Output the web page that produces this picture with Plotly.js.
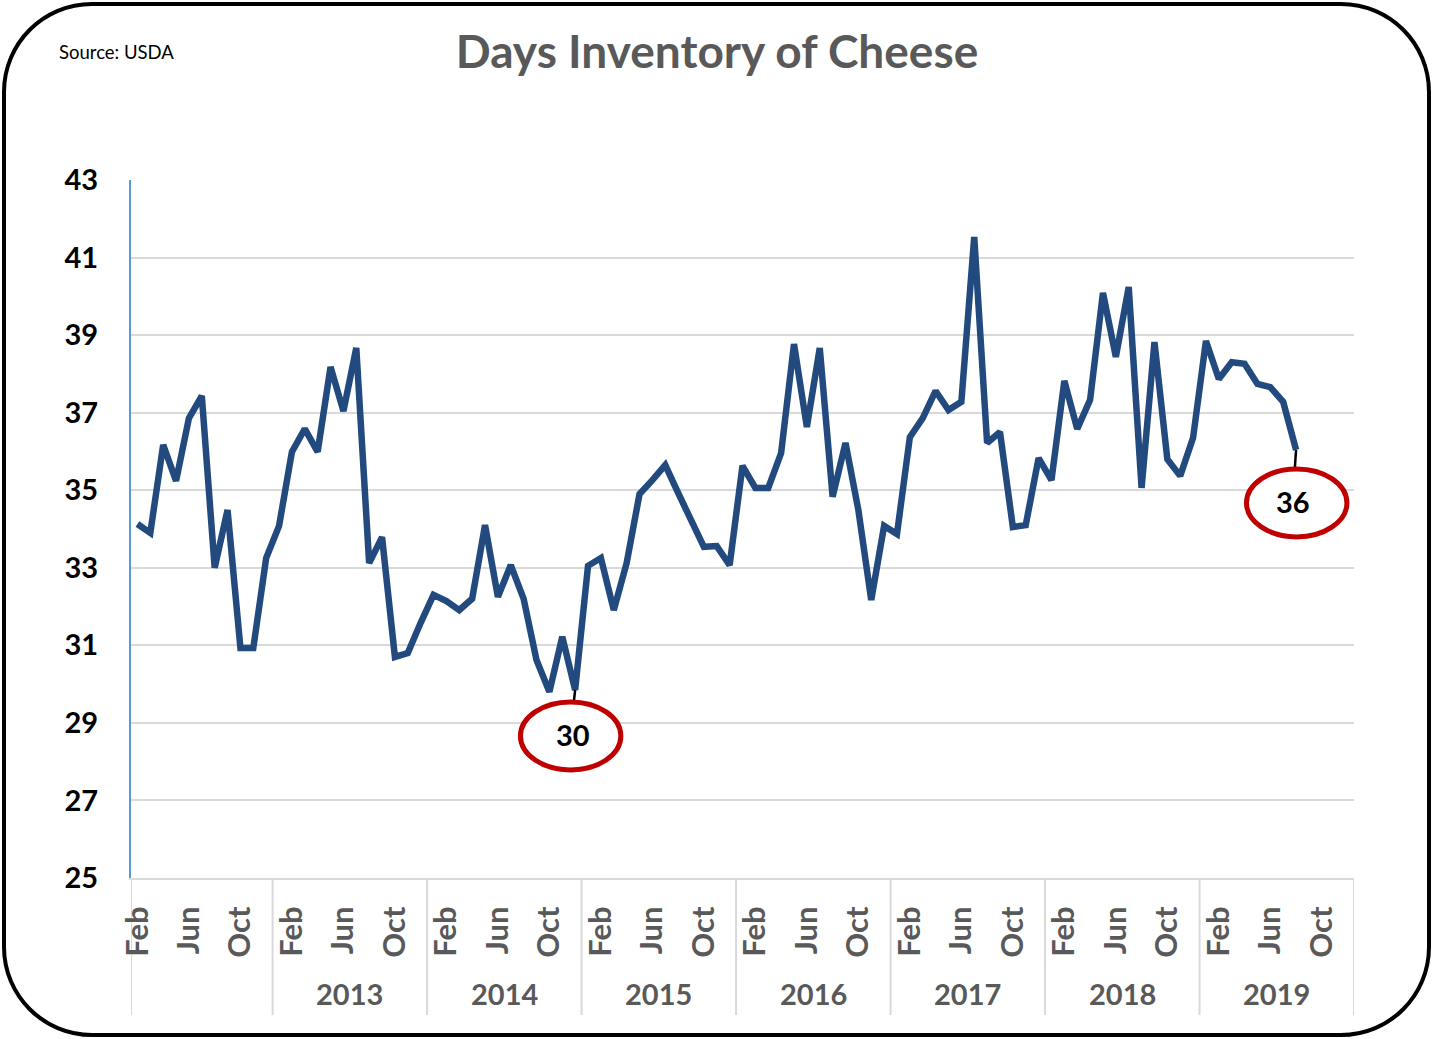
<!DOCTYPE html>
<html>
<head>
<meta charset="utf-8">
<script src="https://cdn.plot.ly/plotly-3.0.1.min.js"></script>
<style>
  html, body { margin: 0; padding: 0; background: #ffffff; }
  #chart { width: 1433px; height: 1039px; }
</style>
</head>
<body>
<div id="chart"></div>
<script>
// ---------------- DATA ----------------
const monthNames = ['Jan','Feb','Mar','Apr','May','Jun','Jul','Aug','Sep','Oct','Nov','Dec'];
const firstYear = 2012;
const firstMonth = 'Feb';
const lastAxisYear = 2019;          // axis runs through Dec of this year
const tickMonths = ['Feb','Jun','Oct'];
const yearLabels = ['2013','2014','2015','2016','2017','2018','2019'];

// Days inventory of cheese, monthly from Feb 2012
const values2012 = [34.13, 33.90, 36.17, 35.24, 36.86, 37.43, 33.00, 34.49, 30.93, 30.93, 33.25];
const values2013 = [34.08, 35.99, 36.58, 35.99, 38.18, 37.04, 38.67, 33.12, 33.79, 30.70, 30.80, 31.58];
const values2014 = [32.30, 32.14, 31.91, 32.20, 34.10, 32.25, 33.07, 32.20, 30.62, 29.80, 31.22, 29.85];
const values2015 = [33.05, 33.25, 31.91, 33.12, 34.90, 35.26, 35.65, 34.93, 34.23, 33.54, 33.56, 33.07];
const values2016 = [35.63, 35.06, 35.06, 35.96, 38.77, 36.63, 38.67, 34.83, 36.22, 34.49, 32.17, 34.08];
const values2017 = [33.87, 36.37, 36.86, 37.56, 37.07, 37.28, 41.53, 36.22, 36.50, 34.05, 34.10, 35.83];
const values2018 = [35.26, 37.82, 36.58, 37.33, 40.09, 38.44, 40.24, 35.06, 38.82, 35.80, 35.37, 36.35];
const values2019 = [38.85, 37.87, 38.30, 38.26, 37.74, 37.66, 37.28, 36.04];

const callouts = [
  { label: '30', month: 'Dec', year: 2014 },
  { label: '36', month: 'Aug', year: 2019 }
];

// ---------------- BUILD ----------------
const values = [].concat(values2012, values2013, values2014, values2015,
                         values2016, values2017, values2018, values2019);
const startIdx = monthNames.indexOf(firstMonth);
function monthIndex(mName, year) {
  return (year - firstYear) * 12 + monthNames.indexOf(mName) - startIdx;
}
const nAxis = monthIndex('Dec', lastAxisYear) + 1;
const xIdx = values.map((v, i) => i);
const xText = values.map((v, i) => {
  const m = (startIdx + i) % 12;
  const y = firstYear + Math.floor((startIdx + i) / 12);
  return monthNames[m] + ' ' + y;
});

const tickvals = [], ticktext = [];
for (let i = 0; i < nAxis; i++) {
  const m = monthNames[(startIdx + i) % 12];
  if (tickMonths.indexOf(m) >= 0) { tickvals.push(i); ticktext.push(m); }
}

// ---------------- LAYOUT GEOMETRY ----------------
const W = 1433, H = 1039;
const M = { l: 131, r: 79, t: 180, b: 161 };
const plotW = W - M.l - M.r, plotH = H - M.t - M.b;
const px2x = p => (p - M.l) / plotW;
const py2y = p => (M.t + plotH - p) / plotH;
const unitsPerPx = 18 / plotH;

const gridGray = '#D9D9D9';
const textGray = '#595959';
const lineBlue = '#224A7E';
const font = 'Lato, "Open Sans", "DejaVu Sans", sans-serif';

const shapes = [];
// year group separators (below axis)
const bounds = [-0.5];
for (let y = firstYear + 1; y <= lastAxisYear; y++) bounds.push(monthIndex('Jan', y) - 0.5);
bounds.push(nAxis - 0.5);
bounds.forEach(b => shapes.push({
  type: 'line', xref: 'x', yref: 'paper', x0: b, x1: b, y0: 0, y1: py2y(1015),
  line: { color: gridGray, width: 2 }, layer: 'below'
}));

// callouts: leader line + red ellipse (offsets in pixels below the point / months sideways)
const calloutGap = [46, 53];
const calloutShift = [-0.35, 0.05];
const annotations = [];
callouts.forEach((c, k) => {
  const i = monthIndex(c.month, c.year);
  const v = values[i];
  const cy = v - calloutGap[k] * unitsPerPx;   // ellipse centre
  const cx = i + calloutShift[k];
  const ry = 34 * unitsPerPx;
  shapes.push({ type: 'line', xref: 'x', yref: 'y', x0: i, x1: i - 0.1, y0: v, y1: cy + ry,
    line: { color: '#000000', width: 2.5 }, layer: 'above' });
  shapes.push({ type: 'circle', xref: 'x', yref: 'y', x0: cx - 3.9, x1: cx + 3.9,
    y0: cy - ry, y1: cy + ry, fillcolor: '#ffffff',
    line: { color: '#C00000', width: 5 }, layer: 'above' });
  annotations.push({ xref: 'x', yref: 'y', x: i - 0.2, y: cy + 0.03, text: c.label,
    showarrow: false, xanchor: 'center', yanchor: 'middle',
    font: { family: font, size: 29, color: '#000000', weight: 'bold' } });
});

// year labels
yearLabels.forEach(yl => {
  const y = parseInt(yl, 10);
  const center = (monthIndex('Jan', y) + monthIndex('Dec', y)) / 2;
  annotations.push({ xref: 'x', yref: 'paper', x: center, y: py2y(993), text: yl,
    showarrow: false, xanchor: 'center', yanchor: 'middle',
    font: { family: font, size: 29, color: textGray, weight: 'bold' } });
});

// source note
annotations.push({ xref: 'paper', yref: 'paper', x: px2x(57), y: py2y(52), text: 'Source: USDA',
  showarrow: false, xanchor: 'left', yanchor: 'middle',
  font: { family: font, size: 18.5, color: '#000000' } });

// rounded outer border
(function () {
  const x0 = 4, y0 = 4, x1 = 1429, y1 = 1035, r = 88, k = 0.5523 * r;
  const P = (a, b) => px2x(a).toFixed(5) + ',' + py2y(b).toFixed(5);
  const d = 'M ' + P(x0 + r, y0) +
    ' L ' + P(x1 - r, y0) +
    ' C ' + P(x1 - r + k, y0) + ' ' + P(x1, y0 + r - k) + ' ' + P(x1, y0 + r) +
    ' L ' + P(x1, y1 - r) +
    ' C ' + P(x1, y1 - r + k) + ' ' + P(x1 - r + k, y1) + ' ' + P(x1 - r, y1) +
    ' L ' + P(x0 + r, y1) +
    ' C ' + P(x0 + r - k, y1) + ' ' + P(x0, y1 - r + k) + ' ' + P(x0, y1 - r) +
    ' L ' + P(x0, y0 + r) +
    ' C ' + P(x0, y0 + r - k) + ' ' + P(x0 + r - k, y0) + ' ' + P(x0 + r, y0) + ' Z';
  shapes.push({ type: 'path', xref: 'paper', yref: 'paper', path: d,
    line: { color: '#000000', width: 4 }, layer: 'above' });
})();

const trace = {
  type: 'scatter', mode: 'lines', x: xIdx, y: values, text: xText,
  line: { color: lineBlue, width: 6.5, shape: 'linear' },
  hoverinfo: 'text+y'
};

const layout = {
  width: W, height: H,
  margin: { l: M.l, r: M.r, t: M.t, b: M.b, pad: 0 },
  paper_bgcolor: '#ffffff', plot_bgcolor: '#ffffff',
  showlegend: false,
  title: { text: 'Days Inventory of Cheese', xref: 'container', yref: 'container',
    x: 717 / W, y: 1 - 52 / H, xanchor: 'center', yanchor: 'middle',
    font: { family: font, size: 46, color: textGray, weight: 'bold' } },
  xaxis: {
    range: [-0.5, nAxis - 0.5], tickmode: 'array', tickvals: tickvals, ticktext: ticktext,
    tickangle: -90, tickfont: { family: font, size: 31, color: textGray, weight: 'bold' },
    showgrid: false, zeroline: false, showline: true, linecolor: gridGray, linewidth: 2,
    ticks: 'outside', ticklen: 14, tickcolor: 'rgba(0,0,0,0)', fixedrange: true
  },
  yaxis: {
    range: [25, 43], tick0: 25, dtick: 2, tickmode: 'linear',
    tickfont: { family: font, size: 29, color: '#000000', weight: 'bold' },
    showgrid: true, gridcolor: gridGray, gridwidth: 2, zeroline: false,
    showline: true, linecolor: '#5B9BD5', linewidth: 2,
    ticks: 'outside', ticklen: 25, tickcolor: 'rgba(0,0,0,0)', fixedrange: true
  },
  shapes: shapes,
  annotations: annotations
};

Plotly.newPlot('chart', [trace], layout, { displayModeBar: false, staticPlot: true });
</script>
</body>
</html>
